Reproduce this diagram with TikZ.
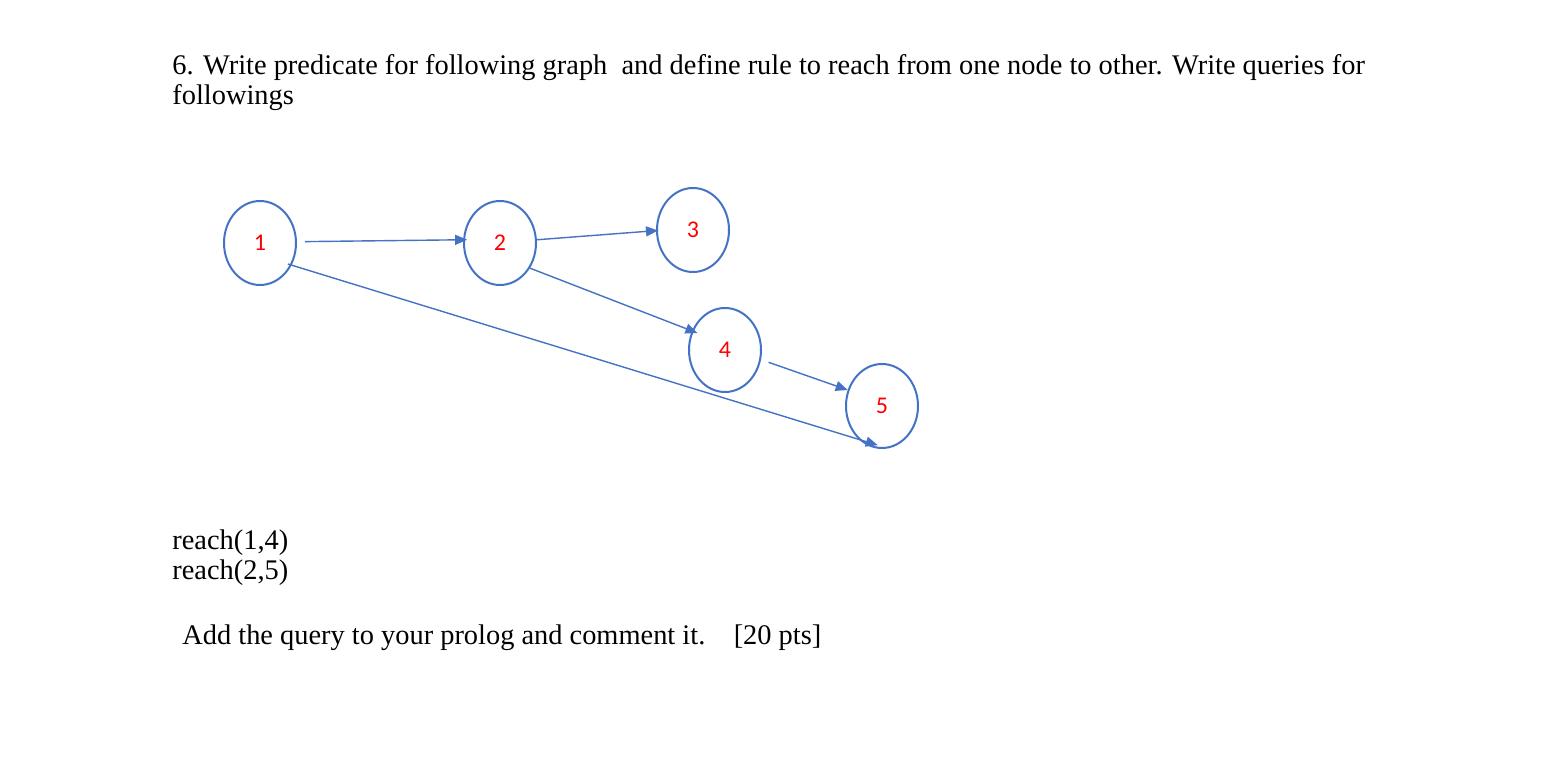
\documentclass[tikz,border=0pt]{standalone}
\usepackage{fontspec}
\setmainfont{Liberation Serif}
\newfontfamily\carlitofont{Carlito}
\usetikzlibrary{shapes.geometric,arrows.meta}
\definecolor{nb}{HTML}{4472C4}
\definecolor{nr}{HTML}{FF0000}
\tikzset{
 gnode/.style={ellipse,draw=nb,line width=1pt,minimum width=36pt,minimum height=42pt,inner sep=0pt,font=\carlitofont\fontsize{12}{14}\selectfont,text=nr},
 gedge/.style={draw=nb,line width=0.7pt,-{Triangle[length=6pt,width=5pt]}},
 txt/.style={anchor=base west,inner sep=0pt,font=\fontsize{14.2}{17}\selectfont}
}
\begin{document}
\begin{tikzpicture}[x=0.5pt,y=-0.5pt]
\useasboundingbox[fill=white] (0,0) rectangle (1560,759);
\node[txt] (t1) at (172,75) {6. Write predicate for following graph\ \ and define rule to reach from one node to other. Write queries for};
\node[txt] (t2) at (172,105) {followings};
\node[gnode] (n1) at (260,243) {1};
\node[gnode] (n2) at (500,243) {2};
\node[gnode] (n3) at (693,230) {3};
\node[gnode] (n4) at (725,350) {4};
\node[gnode] (n5) at (882,406) {5};
\draw[gedge,shorten <=4pt,shorten >=-2pt] (n1.2) -- (n2.175);
\draw[gedge,shorten >=-1pt] (n2.5) -- (n3.181);
\draw[gedge,shorten >=-3pt] (n2.-40) -- (n4.150);
\draw[gedge,shorten <=4pt] (n4.-15) -- (n5.155);
\draw[gedge,shorten <=-2pt,shorten >=-10pt] (n1.-35) -- (n5.-125);
\node[txt] (q1) at (172,549) {reach(1,4)};
\node[txt] (q2) at (172,580) {reach(2,5)};
\node[txt] (q3) at (182,644) {Add the query to your prolog and comment it.\ \ \ \ [20 pts]};
\end{tikzpicture}
\end{document}
